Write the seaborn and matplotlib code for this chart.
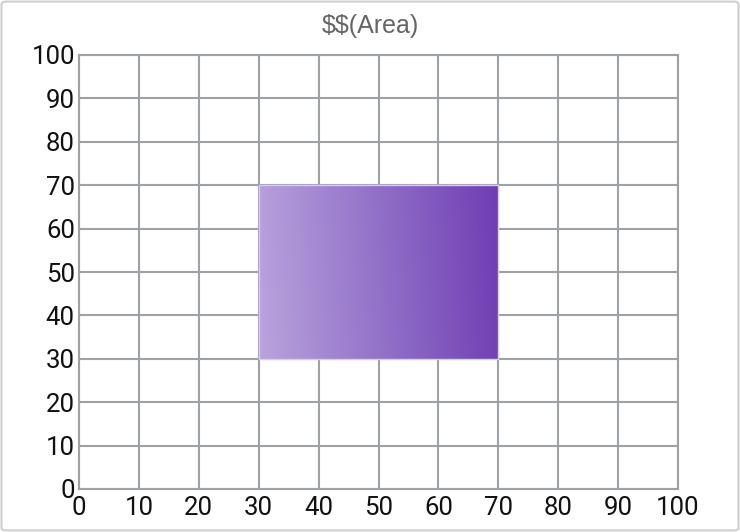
import numpy as np
import matplotlib
matplotlib.use("Agg")
import matplotlib.pyplot as plt
import seaborn as sns
from matplotlib.colors import LinearSegmentedColormap
from matplotlib.patches import FancyBboxPatch

# Data
title = "$$(Area)"
area_x = [30, 70]
area_y = [30, 70]
x_ticks = [0, 10, 20, 30, 40, 50, 60, 70, 80, 90, 100]
y_ticks = [0, 10, 20, 30, 40, 50, 60, 70, 80, 90, 100]
grad_colors = ["#b9a3dd", "#9271c8", "#6f3db3"]

sns.set_style("white")
plt.rcParams["font.family"] = ["Roboto", "DejaVu Sans"]

fig = plt.figure(figsize=(7.4, 5.32), dpi=100)
ax = fig.add_axes([79/740, 1-489/532, (678-79)/740, (489-55)/532])

# Gradient-filled area
cmap = LinearSegmentedColormap.from_list("grad", grad_colors)
gx = np.linspace(0, 1, 300)
gy = np.linspace(0, 1, 200)
GX, GY = np.meshgrid(gx, gy)
G = np.clip(GX * 0.96 + (1 - GY) * 0.04, 0, 1)
ax.imshow(G, cmap=cmap, extent=[area_x[0], area_x[1], area_y[0], area_y[1]],
          origin="upper", aspect="auto", interpolation="bilinear", zorder=2)
edge_x = [area_x[0], area_x[1], area_x[1], area_x[0], area_x[0]]
edge_y = [area_y[0], area_y[0], area_y[1], area_y[1], area_y[0]]
sns.lineplot(x=edge_x, y=edge_y, sort=False, estimator=None,
             color="#d8cbef", linewidth=1, ax=ax, zorder=3)

ax.set_xlim(x_ticks[0], x_ticks[-1])
ax.set_ylim(y_ticks[0], y_ticks[-1])
ax.set_xticks(x_ticks)
ax.set_yticks(y_ticks)
ax.set_xticklabels([str(v) for v in x_ticks], fontsize=18.5, color="#111111")
ax.set_yticklabels([str(v) for v in y_ticks], fontsize=18.5, color="#111111")
ax.tick_params(axis="both", length=0)
ax.tick_params(axis="x", pad=5)
ax.tick_params(axis="y", pad=3)
ax.grid(True, color="#9da2a7", linewidth=1.5, zorder=1)
ax.set_axisbelow(True)
for s in ax.spines.values():
    s.set_color("#9da2a7")
    s.set_linewidth(1.5)
ax.set_xlabel("")
ax.set_ylabel("")

fig.text(0.5, 1-26/532, title, ha="center", va="center", fontsize=18,
         family=["Liberation Sans", "DejaVu Sans"],
         color="#666666", parse_math=False)

border = FancyBboxPatch((0.002, 0.003), 0.996, 0.994, boxstyle="round,pad=0,rounding_size=0.006",
                        transform=fig.transFigure, fill=False, edgecolor="#cfcfcf", linewidth=1.5)
fig.patches.append(border)

fig.savefig("out.png", dpi=100)
